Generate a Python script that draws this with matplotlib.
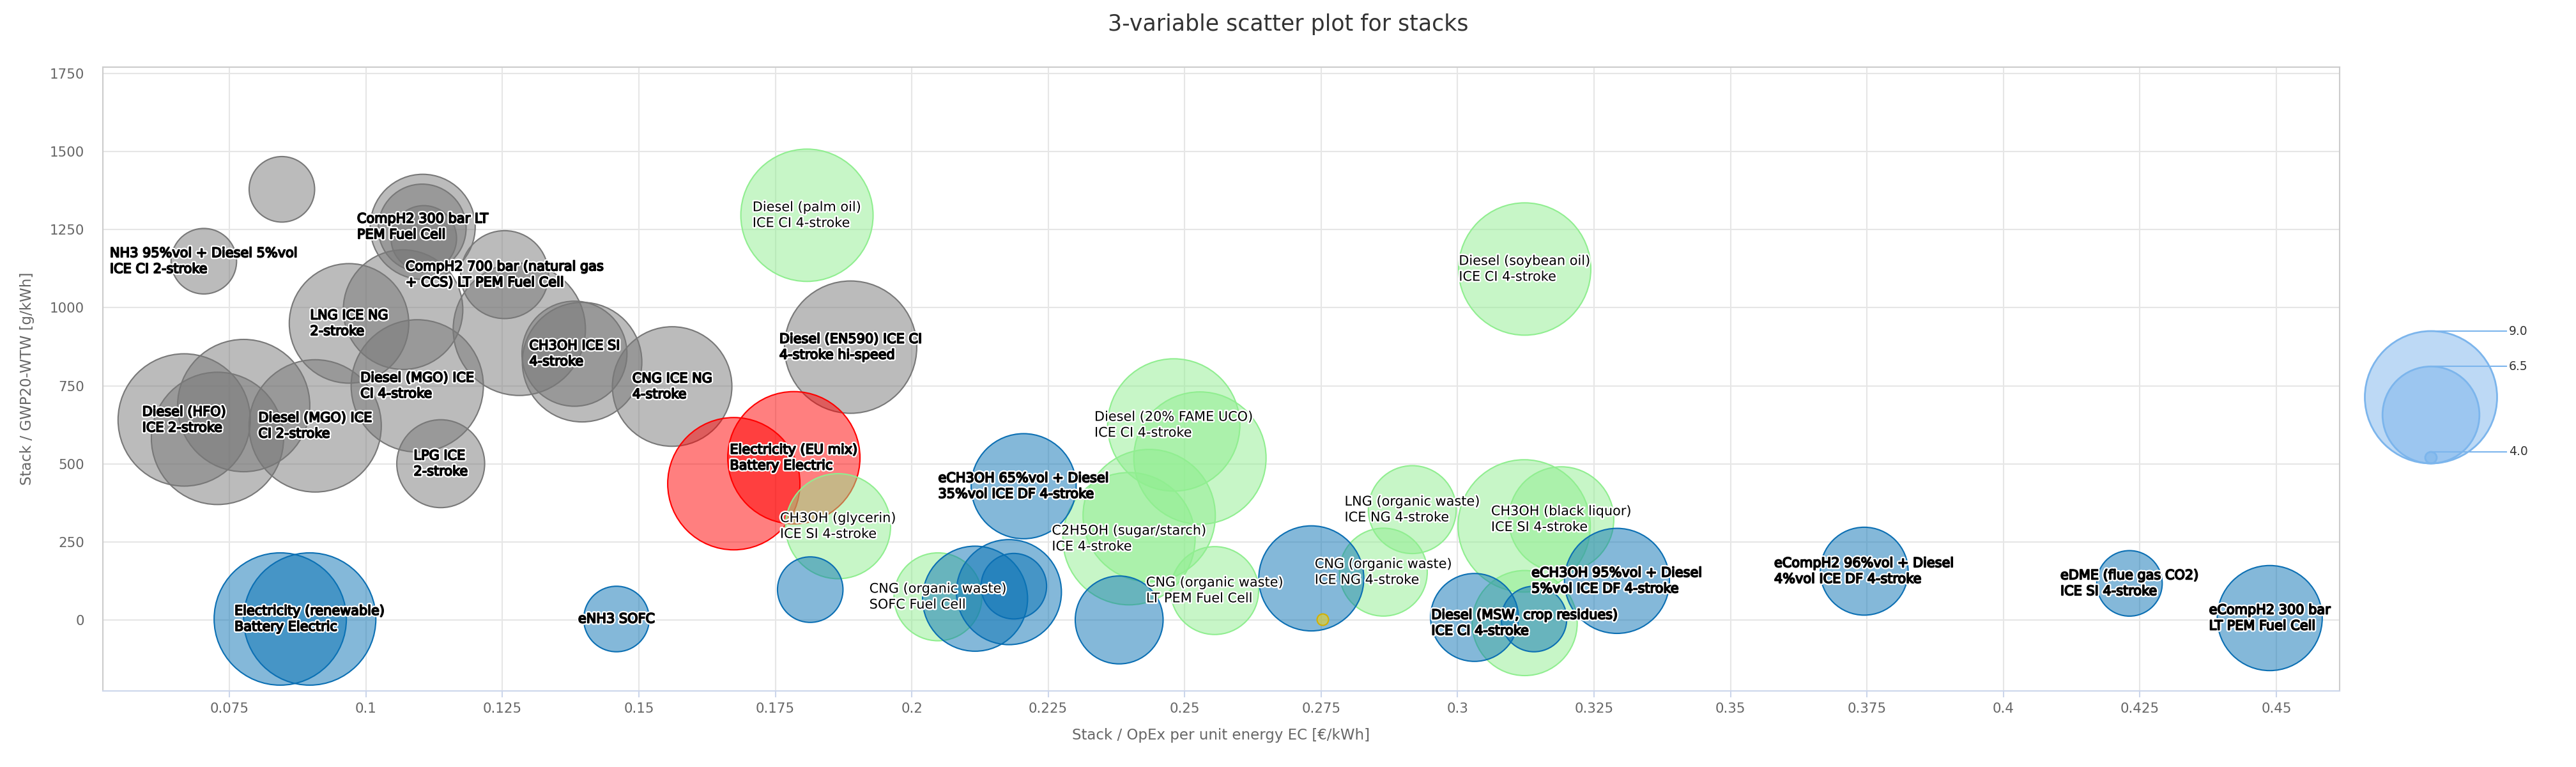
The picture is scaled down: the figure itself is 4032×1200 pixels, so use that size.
import numpy as np
import matplotlib.pyplot as plt
import matplotlib.patheffects as pe
from matplotlib.patches import Circle
from matplotlib.ticker import FuncFormatter, MultipleLocator

# -------------------------
# Data: x = OpEx per unit energy [EUR/kWh], y = GWP20-WTW [g/kWh], z = bubble value
# -------------------------
fossil_x = [0.0846, 0.0703, 0.1104, 0.1103, 0.1106, 0.1254, 0.1281, 0.1068, 0.0969, 0.1094,
            0.1137, 0.1382, 0.1396, 0.1561, 0.0667, 0.0776, 0.0728, 0.0907, 0.1888]
fossil_y = [1379, 1149, 1259, 1255, 1222, 1106, 931, 994, 950, 750,
            501, 853, 826, 748, 641, 687, 582, 622, 874]
fossil_z = [5, 5, 7, 6, 5, 6, 9, 8, 8, 9, 6, 7, 8, 8, 9, 9, 9, 9, 9]
fossil_lbl = ["", "NH3 95%vol + Diesel 5%vol\nICE CI 2-stroke", "CompH2 300 bar LT\nPEM Fuel Cell", "", "",
              "CompH2 700 bar (natural gas\n+ CCS) LT PEM Fuel Cell", "", "", "LNG ICE NG\n2-stroke",
              "Diesel (MGO) ICE\nCI 4-stroke", "LPG ICE\n2-stroke", "CH3OH ICE SI\n4-stroke", "",
              "CNG ICE NG\n4-stroke", "Diesel (HFO)\nICE 2-stroke", "", "",
              "Diesel (MGO) ICE\nCI 2-stroke", "Diesel (EN590) ICE CI\n4-stroke hi-speed"]

grid_x = [0.1674, 0.1784]
grid_y = [437, 520]
grid_z = [9, 9]
grid_lbl = ["", "Electricity (EU mix)\nBattery Electric"]

bio_x = [0.1808, 0.3123, 0.1865, 0.2048, 0.2480, 0.2528, 0.2435, 0.2398, 0.2555, 0.2864,
         0.2917, 0.3122, 0.3190, 0.3123]
bio_y = [1296, 1124, 301, 75, 625, 519, 335, 261, 95, 154, 354, 302, 323, -9]
bio_z = [9, 9, 7, 6, 9, 9, 9, 9, 6, 6, 6, 9, 7, 7]
bio_lbl = ["Diesel (palm oil)\nICE CI 4-stroke", "Diesel (soybean oil)\nICE CI 4-stroke",
           "CH3OH (glycerin)\nICE SI 4-stroke", "CNG (organic waste)\nSOFC Fuel Cell",
           "Diesel (20% FAME UCO)\nICE CI 4-stroke", "", "", "C2H5OH (sugar/starch)\nICE 4-stroke",
           "CNG (organic waste)\nLT PEM Fuel Cell", "CNG (organic waste)\nICE NG 4-stroke",
           "LNG (organic waste)\nICE NG 4-stroke", "", "CH3OH (black liquor)\nICE SI 4-stroke",
           "Diesel (MSW, crop residues)\nICE CI 4-stroke"]

efuel_x = [0.0843, 0.0897, 0.1459, 0.1814, 0.2116, 0.2178, 0.2187, 0.2205, 0.2380, 0.2732,
           0.3031, 0.3140, 0.3292, 0.3745, 0.4231, 0.4488]
efuel_y = [4, 4, 4, 98, 69, 90, 109, 429, 1, 134, 9, 4, 126, 157, 118, 7]
efuel_z = [9, 9, 5, 5, 7, 7, 5, 7, 6, 7, 6, 5, 7, 6, 5, 7]
efuel_lbl = ["", "Electricity (renewable)\nBattery Electric", "eNH3 SOFC", "", "", "", "",
             "eCH3OH 65%vol + Diesel\n35%vol ICE DF 4-stroke", "", "", "", "",
             "eCH3OH 95%vol + Diesel\n5%vol ICE DF 4-stroke",
             "eCompH2 96%vol + Diesel\n4%vol ICE DF 4-stroke",
             "eDME (flue gas CO2)\nICE SI 4-stroke", "eCompH2 300 bar\nLT PEM Fuel Cell"]

other_x = [0.2752]
other_y = [2]
other_z = [4]
other_lbl = [""]

# -------------------------
# Bubble size scale (pixels)
# -------------------------
DPI = 100
all_z = fossil_z + grid_z + bio_z + efuel_z + other_z
z_min, z_max = min(all_z), max(all_z)
D_MIN, D_MAX = 18, 207


def diam_px(z):
    z = np.asarray(z, dtype=float)
    return D_MIN + (D_MAX - D_MIN) * np.sqrt((z - z_min) / (z_max - z_min))


def size_pt2(z):
    return (diam_px(z) * 72 / DPI) ** 2


# -------------------------
# Figure
# -------------------------
W, H = 4032, 1200
fig = plt.figure(figsize=(W / DPI, H / DPI), dpi=DPI)
L, R, T, B = 161, 3662, 104.5, 1080.7
ax = fig.add_axes([L / W, (H - B) / H, (R - L) / W, (B - T) / H])

series = [
    (fossil_x, fossil_y, fossil_z, fossil_lbl, (0.47, 0.47, 0.47, 0.5), '#787878', True),
    (grid_x, grid_y, grid_z, grid_lbl, (1.0, 0.0, 0.0, 0.5), '#ff0000', True),
    (bio_x, bio_y, bio_z, bio_lbl, (0.565, 0.933, 0.565, 0.5), '#90ee90', False),
    (efuel_x, efuel_y, efuel_z, efuel_lbl, (0.04, 0.45, 0.71, 0.5), '#0b6fb3', True),
    (other_x, other_y, other_z, other_lbl, (1.0, 0.84, 0.0, 0.5), '#d4b000', False),
]
heavy_extra = {"Diesel (MSW, crop residues)\nICE CI 4-stroke"}

plain_fx = [pe.withStroke(linewidth=3.5, foreground='white')]
heavy_fx = [pe.Stroke(linewidth=4.5, foreground='white'),
            pe.Stroke(linewidth=1.3, foreground='black'), pe.Normal()]

for xs, ys, zs, lbls, fc, ec, heavy in series:
    ax.scatter(xs, ys, s=size_pt2(zs), facecolor=fc, edgecolor=ec, linewidth=1.5, zorder=3)

for xs, ys, zs, lbls, fc, ec, heavy in series:
    for x, y, lbl in zip(xs, ys, lbls):
        if not lbl:
            continue
        bold = heavy or lbl in heavy_extra
        ax.text(x, y, lbl, ha='center', va='center', multialignment='left',
                fontsize=15, linespacing=1.3, color='black',
                path_effects=heavy_fx if bold else plain_fx,
                zorder=10)

ax.set_xlim(0.0518, 0.4616)
ax.set_ylim(-225.6, 1771.1)
ax.xaxis.set_major_locator(MultipleLocator(0.025))
ax.yaxis.set_major_locator(MultipleLocator(250))
ax.xaxis.set_major_formatter(FuncFormatter(lambda v, _: f"{v:g}"))
ax.yaxis.set_major_formatter(FuncFormatter(lambda v, _: f"{v:g}"))
ax.grid(True, color='#e6e6e6', linewidth=1.5)
ax.set_axisbelow(True)
ax.tick_params(axis='x', length=10 * 72 / DPI, width=1.5, color='#ccd6eb',
               labelsize=15.4, labelcolor='#666666', pad=6)
ax.tick_params(axis='y', length=0, labelsize=15.4, labelcolor='#666666', pad=21)
for side in ['top', 'left', 'right']:
    ax.spines[side].set_color('#cccccc')
    ax.spines[side].set_linewidth(1.5)
ax.spines['bottom'].set_color('#ccd6eb')
ax.spines['bottom'].set_linewidth(1.5)

ax.set_xlabel('Stack / OpEx per unit energy EC [€/kWh]', fontsize=16.5, color='#666666')
ax.xaxis.set_label_coords(0.5, (B - 1151) / (B - T))
ax.xaxis.label.set_va('center')
ax.set_ylabel('Stack / GWP20-WTW [g/kWh]', fontsize=16.5, color='#666666')
ax.yaxis.set_label_coords((43 - L) / (R - L), 0.5)
ax.yaxis.label.set_va('center')

fig.text(0.5, 1 - 48 / H, '3-variable scatter plot for stacks', ha='center', va='baseline',
         fontsize=25, color='#333333')

# -------------------------
# Bubble size legend (pixel coordinates)
# -------------------------
lax = fig.add_axes([0, 0, 1, 1])
lax.set_xlim(0, W)
lax.set_ylim(H, 0)
lax.axis('off')
cx, base = 3805, 725
for v in [z_max, (z_min + z_max) / 2, z_min]:
    d = float(diam_px(v))
    lax.add_patch(Circle((cx, base - d / 2), d / 2, facecolor=(0.486, 0.71, 0.925, 0.5),
                         edgecolor='#7cb5ec', linewidth=2))
    lax.plot([cx, 3923], [base - d, base - d], color='#7cb5ec', linewidth=1.5)
    lax.text(3927, base - d, f"{v:.1f}", ha='left', va='center', fontsize=13.5, color='#333333')

fig.savefig('out.png', dpi=DPI)
